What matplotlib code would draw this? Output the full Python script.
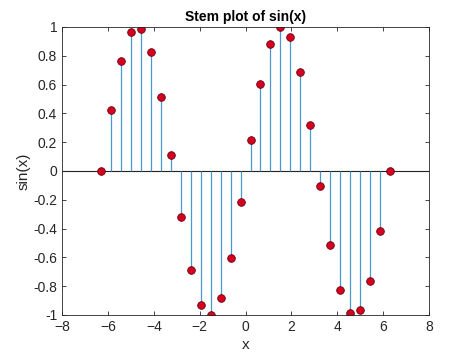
import matplotlib.pyplot as plt

# sample points
x = [-6.283, -5.850, -5.417, -4.983, -4.550, -4.117, -3.683, -3.250, -2.817, -2.383,
     -1.950, -1.517, -1.083, -0.650, -0.217, 0.217, 0.650, 1.083, 1.517, 1.950,
     2.383, 2.817, 3.250, 3.683, 4.117, 4.550, 4.983, 5.417, 5.850, 6.283]
y = [0.0, 0.420, 0.762, 0.964, 0.987, 0.827, 0.516, 0.108, -0.319, -0.688,
     -0.929, -0.999, -0.884, -0.605, -0.215, 0.215, 0.605, 0.884, 0.999, 0.929,
     0.688, 0.319, -0.108, -0.516, -0.827, -0.987, -0.964, -0.762, -0.420, 0.0]

xticks = [-8, -6, -4, -2, 0, 2, 4, 6, 8]
yticks = [-1, -0.8, -0.6, -0.4, -0.2, 0, 0.2, 0.4, 0.6, 0.8, 1]
yticklabels = ["-1", "-0.8", "-0.6", "-0.4", "-0.2", "0", "0.2", "0.4", "0.6", "0.8", "1"]


def main():
    plt.rcParams['font.family'] = ['Liberation Sans', 'DejaVu Sans']
    fig = plt.figure(figsize=(4.74, 3.55), dpi=100)
    ax = fig.add_axes([0.131, 0.113, 0.774, 0.811])

    markers, stems, base = ax.stem(x, y, basefmt='none')
    plt.setp(stems, color='#4a98d0', linewidth=0.9)
    plt.setp(markers, marker='o', markersize=5.5, markerfacecolor='#d4001e',
             markeredgecolor='#6a0010', markeredgewidth=0.6)
    # baseline runs across the whole axes, like MATLAB's
    ax.axhline(0, color='#222222', linewidth=0.8, zorder=1.5)

    ax.set_xlim(-8, 8)
    ax.set_ylim(-1, 1)
    ax.set_xticks(xticks)
    ax.set_yticks(yticks)
    ax.set_yticklabels(yticklabels)
    ax.tick_params(direction='in', top=True, right=True, labelsize=10,
                   colors='#262626', length=3, width=0.6)
    for s in ax.spines.values():
        s.set_color('#262626')
        s.set_linewidth(0.6)

    ax.set_title("Stem plot of sin(x)", fontsize=10, fontweight='bold', pad=4)
    ax.set_xlabel("x", fontsize=11, color='#262626', labelpad=3)
    ax.set_ylabel("sin(x)", fontsize=11, color='#262626', labelpad=2)

    fig.savefig("out.png", dpi=100)


if __name__ == "__main__":
    main()
